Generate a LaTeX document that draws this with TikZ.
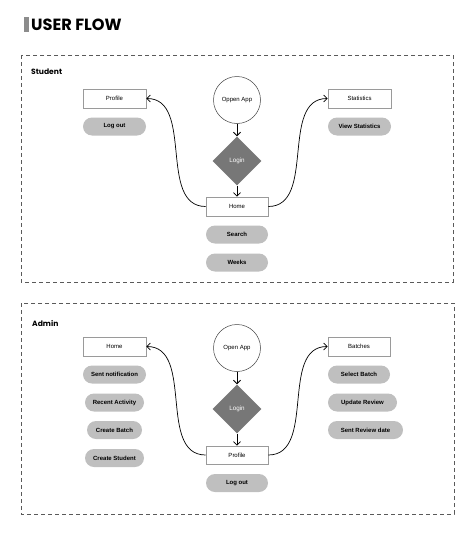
\documentclass[tikz,border=0pt]{standalone}
\usepackage{fontspec}
\setmainfont{Liberation Sans}
\newfontfamily\pop{Poppins}
\usetikzlibrary{shapes.geometric,shapes.misc,arrows.meta}
\definecolor{pillgray}{HTML}{BFBFBF}
\definecolor{diagray}{HTML}{777777}
\definecolor{edgegray}{HTML}{9A9A9A}
\definecolor{dashgray}{HTML}{5A5A5A}
\tikzset{
  sbox/.style={draw=edgegray, line width=0.6pt, fill=white, rectangle, inner sep=0pt, minimum height=19pt, font=\fontsize{6}{7}\selectfont},
  pill/.style={fill=pillgray, rounded rectangle, inner sep=0pt, minimum height=18pt, font=\bfseries\fontsize{6}{7}\selectfont},
  startc/.style={draw=black!75, line width=0.5pt, circle, minimum size=47pt, inner sep=0pt, font=\fontsize{6}{7}\selectfont},
  decide/.style={fill=diagray, diamond, aspect=1, minimum width=49pt, minimum height=49pt, inner sep=0pt, text=white, font=\fontsize{6.3}{7}\selectfont},
  frame/.style={draw=dashgray, line width=0.7pt, dash pattern=on 4pt off 3pt},
  seclabel/.style={anchor=west, inner sep=0pt, font=\pop\bfseries\fontsize{7.6}{9}\selectfont},
  flow/.style={line width=0.8pt, -{Straight Barb[length=3.5pt,width=7pt]}},
  curvy/.style={line width=0.7pt, -{Straight Barb[length=3.5pt,width=7pt]}}
}
\begin{document}
\begin{tikzpicture}[x=1pt,y=-1pt]
\useasboundingbox (0,0) rectangle (474,541);
% title
\fill[black!45] (24,17) rectangle (28.5,32);
\node[anchor=west, inner sep=0pt, font=\pop\bfseries\fontsize{16.2}{18}\selectfont] (title) at (31,24.5) {USER FLOW};

% ---------- Student ----------
\draw[frame] (21,55) rectangle (453,282);
\node[seclabel] (student) at (31,72) {Student};
\node[sbox, minimum width=63pt] (sprofile) at (114.5,98.5) {Profile};
\node[pill, minimum width=63pt] (slogout) at (114.5,126.5) {Log out};
\node[startc] (sopen) at (237,100) {Oppen App};
\node[decide] (slogin) at (237,161) {Login};
\node[sbox, minimum width=62pt] (shome) at (237,206.5) {Home};
\node[pill, minimum width=62pt] (ssearch) at (237,234.5) {Search};
\node[pill, minimum width=62pt] (sweeks) at (237,262.5) {Weeks};
\node[sbox, minimum width=63pt] (sstats) at (359.5,98.5) {Statistics};
\node[pill, minimum width=63pt] (sviewstats) at (359.5,126.5) {View Statistics};
\draw[flow] (sopen) -- (slogin);
\draw[flow] (slogin) -- (shome);
\draw[curvy] (shome.west) to[out=180,in=0] (sprofile.east);
\draw[curvy] (shome.east) to[out=0,in=180] (sstats.west);

% ---------- Admin ----------
\draw[frame] (21,303) rectangle (454,514);
\node[seclabel] (admin) at (32,323) {Admin};
\node[sbox, minimum width=63pt] (ahome) at (114.5,346.5) {Home};
\node[pill, minimum width=63pt] (asent) at (114.5,374.5) {Sent notification};
\node[pill, minimum width=59pt] (arecent) at (114.5,402.5) {Recent Activity};
\node[pill, minimum width=55pt] (acreateb) at (114.5,430) {Create Batch};
\node[pill, minimum width=59pt] (acreates) at (114.5,458) {Create Student};
\node[startc] (aopen) at (237,348) {Open App};
\node[decide] (alogin) at (237,409) {Login};
\node[sbox, minimum width=62pt, minimum height=18pt] (aprofile) at (237,455) {Profile};
\node[pill, minimum width=62pt] (alogout) at (237,483) {Log out};
\node[sbox, minimum width=62pt] (abatches) at (359,346.5) {Batches};
\node[pill, minimum width=62pt] (aselect) at (359,374.5) {Select Batch};
\node[pill, minimum width=69pt] (aupdate) at (362.5,402.5) {Update Review};
\node[pill, minimum width=75pt] (asentrev) at (365.5,430) {Sent Review date};
\draw[flow] (aopen) -- (alogin);
\draw[flow] (alogin) -- (aprofile);
\draw[curvy] (aprofile.west) to[out=180,in=0] (ahome.east);
\draw[curvy] (aprofile.east) to[out=0,in=180] (abatches.west);
\end{tikzpicture}
\end{document}
